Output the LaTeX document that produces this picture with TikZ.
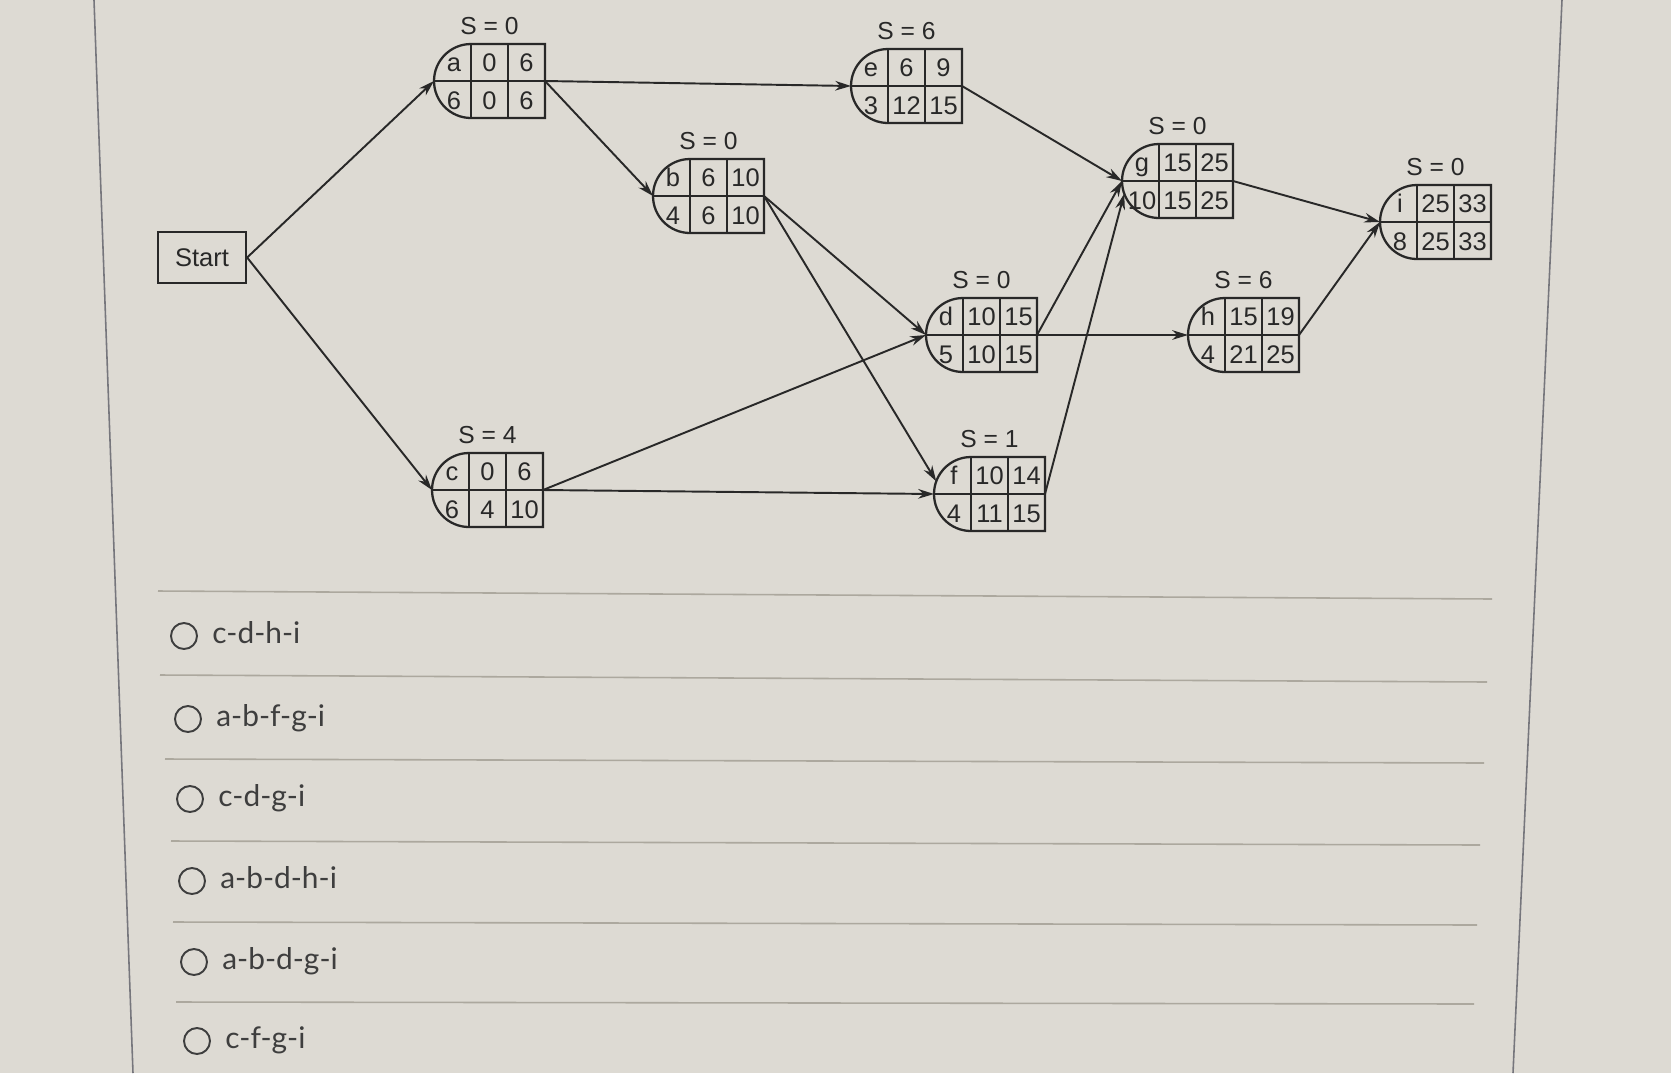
\documentclass[tikz,border=0pt]{standalone}
\usepackage{fontspec}
\setmainfont{Liberation Sans}
\newfontfamily\quizfont{Lato}
\usetikzlibrary{arrows.meta}

\definecolor{paper}{RGB}{221,218,211}
\definecolor{ink}{RGB}{40,40,40}
\definecolor{rulegray}{RGB}{172,168,158}
\definecolor{framegray}{RGB}{118,118,124}
\definecolor{optgray}{RGB}{62,62,62}

% activity box: name, position, slack, letter, ES, EF, duration, LS, LF
\newcommand{\activity}[9]{%
  \begin{scope}[shift={(#2)}]
    \draw[box] (0,37) arc[start angle=270,end angle=90,radius=0.74cm] -- (74,-37) -- (74,37) -- cycle;
    \draw[box] (-37,0) -- (74,0) (0,-37) -- (0,37) (37,-37) -- (37,37);
    \node[cell] (#1-l)  at (-17,-10) {#4};
    \node[cell] (#1-es) at (18.5,-10) {#5};
    \node[cell] (#1-ef) at (55.5,-10) {#6};
    \node[cell] (#1-t)  at (-17,28.5) {#7};
    \node[cell] (#1-ls) at (18.5,28.5) {#8};
    \node[cell] (#1-lf) at (55.5,28.5) {#9};
    \node[cell, font=\fontsize{14}{14}\selectfont] (#1-s) at (18.5,-47) {S = #3};
    \coordinate (#1-in)  at (-37,0);
    \coordinate (#1-up)  at (-34.8,-12.7);
    \coordinate (#1-dn)  at (-34.8,12.7);
    \coordinate (#1-out) at (74,0);
  \end{scope}}

\begin{document}
\begin{tikzpicture}[x=0.02cm, y=-0.02cm,
    box/.style={draw=ink, line width=1.3pt},
    cell/.style={anchor=base, text=ink, inner sep=0pt, font=\fontsize{14.5}{14.5}\selectfont},
    arr/.style={draw=ink, line width=1.1pt, -{Stealth[length=9pt,width=5.5pt]}},
    opt/.style={circle, draw=optgray, line width=1.1pt, minimum size=0.52cm, inner sep=0pt},
    opttext/.style={anchor=base west, text=optgray, inner sep=0pt, font=\quizfont\fontsize{17}{17}\selectfont}]
    \fill[paper] (0,0) rectangle (1671,1073);
    \useasboundingbox (0,0) rectangle (1671,1073);
    \draw[framegray, line width=0.9pt] (94,0) -- (133,1073);
    \draw[framegray, line width=0.9pt] (1562,0) -- (1513,1073);

    \node[draw=ink, line width=1.3pt, text=ink, minimum width=1.76cm, minimum height=1.02cm,
        font=\fontsize{14.5}{14.5}\selectfont] (start) at (202,257.5) {Start};

    \activity{a}{471,81}{0}{a}{0}{6}{6}{0}{6}
    \activity{e}{888,86}{6}{e}{6}{9}{3}{12}{15}
    \activity{b}{690,196}{0}{b}{6}{10}{4}{6}{10}
    \activity{g}{1159,181}{0}{g}{15}{25}{10}{15}{25}
    \activity{i}{1417,222}{0}{i}{25}{33}{8}{25}{33}
    \activity{d}{963,335}{0}{d}{10}{15}{5}{10}{15}
    \activity{h}{1225,335}{6}{h}{15}{19}{4}{21}{25}
    \activity{c}{469,490}{4}{c}{0}{6}{6}{4}{10}
    \activity{f}{971,494}{1}{f}{10}{14}{4}{11}{15}

    \draw[arr] (start.east) -- (a-in);
    \draw[arr] (start.east) -- (c-in);
    \foreach \u/\v in {a/e, a/b, e/g, b/d, c/d, c/f, d/g, d/h, g/i, h/i}
        \draw[arr] (\u-out) -- (\v-in);
    \draw[arr] (b-out) -- (f-up);
    \draw[arr] (f-out) -- (g-dn);

    % answer choices
    \foreach \x/\y/\xx/\yy in {158/591/1492/599, 160/675/1487/682, 165/759/1484/763,
                               171/841/1480/845, 173/922/1477/925, 176/1002/1474/1004}
        \draw[rulegray, line width=0.9pt] (\x,\y) -- (\xx,\yy);
    \foreach \k/\t/\x/\y in {1/c-d-h-i/184/636, 2/a-b-f-g-i/188/719, 3/c-d-g-i/190/799,
                             4/a-b-d-h-i/192/881, 5/a-b-d-g-i/194/962, 6/c-f-g-i/197/1041}
    {
        \node[opt] (opt\k) at (\x,\y) {};
        \node[opttext] (opt\k-t) at (\x+28,\y+7) {\t};
    }
\end{tikzpicture}
\end{document}
